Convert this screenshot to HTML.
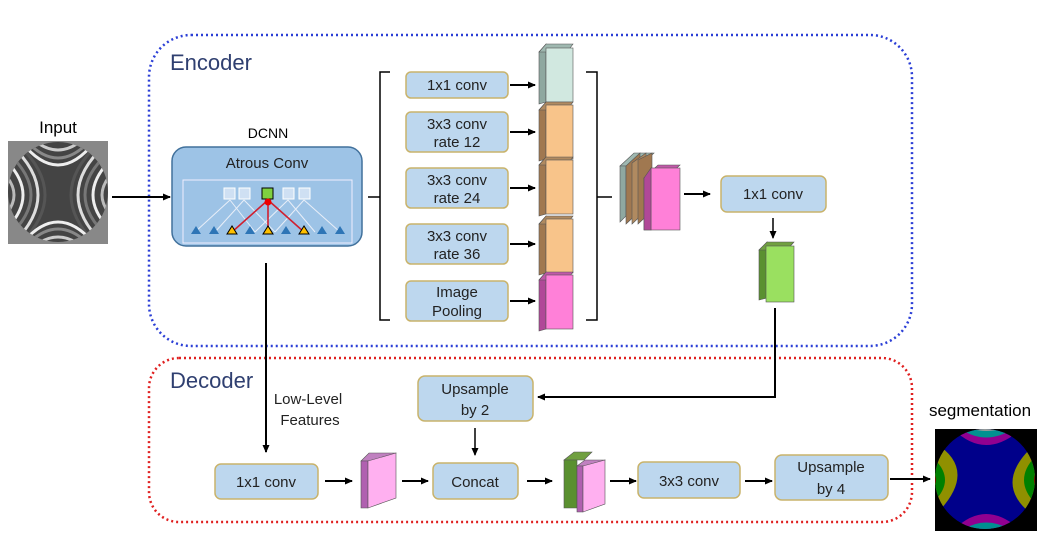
<!DOCTYPE html>
<html><head><style>body{margin:0;background:#fff}svg{display:block}text{font-family:"Liberation Sans",Arial,sans-serif}</style></head><body>
<svg width="1058" height="546" viewBox="0 0 1058 546" xmlns="http://www.w3.org/2000/svg">
<defs>
<marker id="ah" markerWidth="8" markerHeight="8" refX="7" refY="4" orient="auto" markerUnits="userSpaceOnUse"><path d="M0,0.5 L8,4 L0,7.5 z" fill="#000"/></marker>
<clipPath id="cin"><circle cx="58" cy="192" r="50"/></clipPath>
<clipPath id="cseg"><circle cx="985" cy="479" r="50"/></clipPath>
</defs>
<rect x="149" y="35" width="763" height="311" rx="42" fill="none" stroke="#2b3fd6" stroke-width="2.5" stroke-dasharray="2,3"/>
<text x="170" y="70" font-size="22" fill="#2f3f70">Encoder</text>
<rect x="149" y="358" width="763" height="164" rx="30" fill="none" stroke="#e02020" stroke-width="2.5" stroke-dasharray="2,3"/>
<text x="170" y="388" font-size="22" fill="#2f3f70">Decoder</text>

<text x="58" y="133" font-size="17" text-anchor="middle">Input</text>
<rect x="8" y="141" width="100" height="103" fill="#888"/>
<g clip-path="url(#cin)">
<rect x="6" y="140" width="104" height="104" fill="#444"/>
<g fill="none" stroke-width="3">
<path d="M-6,150 Q52,195 -6,240" stroke="#eee"/><path d="M2,148 Q60,195 2,242" stroke="#777"/><path d="M10,144 Q66,195 10,246" stroke="#ddd"/><path d="M18,144 Q72,195 18,246" stroke="#555"/><path d="M-12,160 Q40,195 -12,230" stroke="#bbb"/>
<path d="M122,150 Q64,195 122,240" stroke="#eee"/><path d="M114,148 Q56,195 114,242" stroke="#777"/><path d="M106,144 Q50,195 106,246" stroke="#ddd"/><path d="M98,144 Q44,195 98,246" stroke="#555"/><path d="M128,160 Q76,195 128,230" stroke="#bbb"/>
<path d="M20,140 Q58,190 96,140" stroke="#eee"/><path d="M22,136 Q58,180 94,136" stroke="#888"/><path d="M24,130 Q58,170 92,130" stroke="#ccc"/>
<path d="M20,246 Q58,198 96,246" stroke="#eee"/><path d="M22,250 Q58,208 94,250" stroke="#888"/><path d="M24,256 Q58,218 92,256" stroke="#ccc"/>
</g></g>
<line x1="112" y1="197" x2="170" y2="197" stroke="#000" stroke-width="2" marker-end="url(#ah)"/>

<text x="268" y="138" font-size="14" text-anchor="middle">DCNN</text>
<rect x="172" y="147" width="190" height="99" rx="14" fill="#9dc3e6" stroke="#41719c" stroke-width="1.5"/>
<text x="267" y="168" font-size="15" text-anchor="middle" fill="#222">Atrous Conv</text>
<rect x="183" y="180" width="169" height="63" fill="none" stroke="#eef" stroke-width="1"/>
<g stroke="#e8eef8" stroke-width="1" fill="none">
<path d="M230,200 L195,232 M230,200 L255,232 M244,200 L215,232 M244,200 L275,232 M288,200 L255,232 M288,200 L315,232 M304,200 L275,232 M304,200 L340,232"/>
</g>
<g fill="#cfe0f3" stroke="#fff" stroke-width="1"><rect x="224" y="188" width="11" height="11"/><rect x="239" y="188" width="11" height="11"/><rect x="283" y="188" width="11" height="11"/><rect x="299" y="188" width="11" height="11"/></g>
<rect x="262" y="188" width="11" height="11" fill="#7fd040" stroke="#000" stroke-width="1"/>
<path d="M268,200 L232,232 M268,200 L268,232 M268,200 L304,232" stroke="#d02030" stroke-width="1.6"/>
<circle cx="268" cy="202" r="3.5" fill="#e00"/>
<g fill="#2e75b6"><path d="M196,226 l-5,8 h10z"/><path d="M214,226 l-5,8 h10z"/><path d="M250,226 l-5,8 h10z"/><path d="M286,226 l-5,8 h10z"/><path d="M322,226 l-5,8 h10z"/><path d="M340,226 l-5,8 h10z"/></g>
<g fill="#ffc000" stroke="#000" stroke-width="1"><path d="M232,226 l-5,8 h10z"/><path d="M268,226 l-5,8 h10z"/><path d="M304,226 l-5,8 h10z"/></g>

<path d="M368,197 H380 M390,72 H380 V320 H390" fill="none" stroke="#000" stroke-width="1.5"/>

<g fill="#bdd7ee" stroke="#c9b36b" stroke-width="1.5">
<rect x="406" y="72" width="102" height="26" rx="5"/>
<rect x="406" y="112" width="102" height="40" rx="5"/>
<rect x="406" y="168" width="102" height="40" rx="5"/>
<rect x="406" y="224" width="102" height="40" rx="5"/>
<rect x="406" y="281" width="102" height="40" rx="5"/>
</g>
<g font-size="15" text-anchor="middle" fill="#222">
<text x="457" y="90">1x1 conv</text>
<text x="457" y="129">3x3 conv</text><text x="457" y="147">rate 12</text>
<text x="457" y="185">3x3 conv</text><text x="457" y="203">rate 24</text>
<text x="457" y="241">3x3 conv</text><text x="457" y="259">rate 36</text>
<text x="457" y="297">Image</text><text x="457" y="316">Pooling</text>
</g>
<g stroke="#000" stroke-width="2" marker-end="url(#ah)">
<line x1="510" y1="85" x2="535" y2="85"/><line x1="510" y1="132" x2="535" y2="132"/><line x1="510" y1="188" x2="535" y2="188"/><line x1="510" y1="244" x2="535" y2="244"/><line x1="510" y1="301" x2="535" y2="301"/>
</g>
<g stroke="#555" stroke-width="0.6">
<g><path d="M539,52 l7,-8 v58 l-7,2z" fill="#8fa8a0"/><path d="M539,52 l7,-8 h27 l-6,8z" fill="#9fb8b0"/><rect x="546" y="48" width="27" height="54" fill="#d1e8e0"/></g>
<g><path d="M539,110 l7,-8 v57 l-7,2z" fill="#a07850"/><path d="M539,110 l7,-8 h27 l-6,8z" fill="#b08a60"/><rect x="546" y="105" width="27" height="54" fill="#f8c48a"/></g>
<g><path d="M539,165 l7,-8 v57 l-7,2z" fill="#a07850"/><path d="M539,165 l7,-8 h27 l-6,8z" fill="#b08a60"/><rect x="546" y="160" width="27" height="54" fill="#f8c48a"/></g>
<g><path d="M539,224 l7,-8 v57 l-7,2z" fill="#a07850"/><path d="M539,224 l7,-8 h27 l-6,8z" fill="#b08a60"/><rect x="546" y="219" width="27" height="54" fill="#f8c48a"/></g>
<g><path d="M539,280 l7,-8 v57 l-7,2z" fill="#b04898"/><path d="M539,280 l7,-8 h27 l-6,8z" fill="#c058a8"/><rect x="546" y="275" width="27" height="54" fill="#ff80d8"/></g>
</g>
<path d="M586,72 H597 V320 H586 M597,197 H612" fill="none" stroke="#000" stroke-width="1.5"/>
<g stroke="#555" stroke-width="0.6">
<path d="M620,166 l14,-13 h20 l-14,13z" fill="#9fb8b0"/>
<path d="M620,166 h6 v50 l-6,6z" fill="#8fa8a0"/>
<path d="M626,166 l14,-13 v58 l-14,13z" fill="#a07850"/>
<path d="M632,163 l14,-10 v58 l-14,13z" fill="#b08a60"/>
<path d="M638,160 l14,-7 v58 l-14,13z" fill="#a07850"/>
<path d="M644,178 l14,-13 h22 l-14,13z" fill="#c058a8"/>
<path d="M644,178 h7 v52 h-7z" fill="#b04898"/>
<rect x="651" y="168" width="29" height="62" fill="#ff80d8"/>
<path d="M644,178 l7,-10 v62 l-7,0z" fill="#b04898"/>
</g>
<line x1="684" y1="194" x2="710" y2="194" stroke="#000" stroke-width="2" marker-end="url(#ah)"/>
<rect x="721" y="176" width="105" height="36" rx="6" fill="#bdd7ee" stroke="#c9b36b" stroke-width="1.5"/>
<text x="773" y="199" font-size="15" text-anchor="middle" fill="#222">1x1 conv</text>
<line x1="773" y1="218" x2="773" y2="238" stroke="#000" stroke-width="1.5" marker-end="url(#ah)"/>
<g stroke="#555" stroke-width="0.6"><path d="M759,250 l8,-8 v56 l-8,2z" fill="#5a9030"/><path d="M759,250 l8,-8 h27 l-7,8z" fill="#70a040"/><rect x="766" y="246" width="28" height="56" fill="#9ae060"/></g>
<path d="M775,308 V397 H538" fill="none" stroke="#000" stroke-width="2" marker-end="url(#ah)"/>

<line x1="266" y1="263" x2="266" y2="452" stroke="#000" stroke-width="2" marker-end="url(#ah)"/>
<text x="308" y="404" font-size="15" text-anchor="middle" fill="#222">Low-Level</text>
<text x="310" y="425" font-size="15" text-anchor="middle" fill="#222">Features</text>
<g fill="#bdd7ee" stroke="#c9b36b" stroke-width="1.5">
<rect x="418" y="376" width="115" height="45" rx="7"/>
<rect x="215" y="464" width="103" height="35" rx="6"/>
<rect x="433" y="463" width="85" height="36" rx="6"/>
<rect x="638" y="462" width="102" height="36" rx="6"/>
<rect x="775" y="455" width="113" height="45" rx="7"/>
</g>
<g font-size="15" text-anchor="middle" fill="#222">
<text x="475" y="394">Upsample</text><text x="475" y="415">by 2</text>
<text x="266" y="487">1x1 conv</text>
<text x="475" y="487">Concat</text>
<text x="689" y="486">3x3 conv</text>
<text x="831" y="472">Upsample</text><text x="831" y="494">by 4</text>
</g>
<line x1="475" y1="428" x2="475" y2="455" stroke="#000" stroke-width="1.5" marker-end="url(#ah)"/>
<g stroke="#000" stroke-width="2" marker-end="url(#ah)">
<line x1="325" y1="481" x2="352" y2="481"/><line x1="402" y1="481" x2="428" y2="481"/><line x1="527" y1="481" x2="552" y2="481"/><line x1="610" y1="481" x2="636" y2="481"/><line x1="745" y1="481" x2="772" y2="481"/><line x1="890" y1="479" x2="930" y2="479"/>
</g>
<g stroke="#555" stroke-width="0.6">
<path d="M361,461 l8,-8 h27 l-6,8z" fill="#c080c0"/><path d="M361,461 h7 v47 h-7z" fill="#b060b0"/><path d="M368,461 l28,-8 v45 l-28,10z" fill="#ffb0f0"/>
</g>
<g stroke="#555" stroke-width="0.6">
<path d="M564,460 l10,-8 h18 l-8,8z" fill="#70a040"/><path d="M564,460 h13 v48 h-13z" fill="#5a9030"/>
<path d="M577,466 l8,-6 h20 l-6,6z" fill="#c080c0"/><path d="M577,466 h6 v46 h-6z" fill="#b060b0"/><path d="M583,466 l22,-6 v44 l-22,8z" fill="#ffb0f0"/>
</g>

<text x="980" y="416" font-size="17" text-anchor="middle">segmentation</text>
<rect x="935" y="429" width="102" height="102" fill="#000"/>
<g clip-path="url(#cseg)">
<rect x="934" y="428" width="104" height="104" fill="#00008a"/>
<path d="M930,440 Q985,470 930,520 Z" fill="#909000"/><path d="M930,455 Q960,480 930,505 Z" fill="#008000"/><path d="M930,468 Q942,480 930,492 Z" fill="#800000"/>
<path d="M1040,440 Q985,485 1040,520 Z" fill="#909000"/><path d="M1040,452 Q1008,480 1040,508 Z" fill="#008000"/><path d="M1040,465 Q1028,480 1040,495 Z" fill="#800000"/>
<path d="M945,420 Q985,470 1030,420 Z" fill="#900090"/><path d="M950,420 Q985,455 1025,420 Z" fill="#009090"/><path d="M955,420 Q985,442 1020,420 Z" fill="#999"/>
<path d="M945,540 Q985,488 1030,540 Z" fill="#900090"/><path d="M950,540 Q985,505 1025,540 Z" fill="#009090"/><path d="M955,540 Q985,518 1020,540 Z" fill="#999"/>
</g>
</svg>
</body></html>
